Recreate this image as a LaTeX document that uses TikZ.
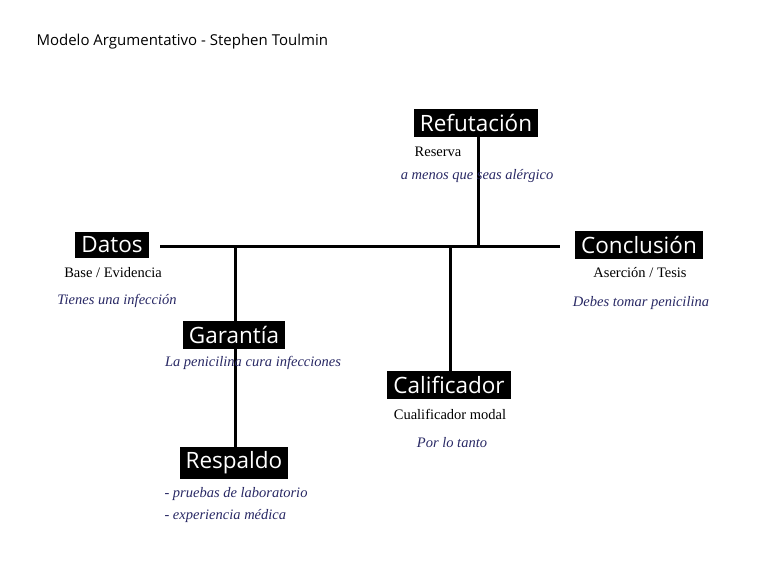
\documentclass[tikz,border=0pt]{standalone}
\usepackage{fontspec}
\setmainfont{Liberation Serif}
\newfontfamily\boxfont{Open Sans}
\pgfdeclarelayer{bg}\pgfsetlayers{bg,main}
\begin{document}
\begin{tikzpicture}[x=1pt,y=-1pt,
  box/.style={fill=black,text=white,font=\boxfont\fontsize{22.5}{24}\selectfont,inner xsep=6pt,inner ysep=5pt,anchor=center},
  sub/.style={font=\fontsize{14.5}{16}\selectfont,text=black},
  ex/.style={font=\itshape\fontsize{14.5}{16}\selectfont,text={rgb,255:red,40;green,40;blue,100}},
  ln/.style={line width=3pt}]
\useasboundingbox (0,0) rectangle (768,576);
\node[anchor=west,font=\boxfont\fontsize{15}{17}\selectfont] (title) at (33,42) {Modelo Argumentativo - Stephen Toulmin};
\node[box] (ref) at (476,123) {Refutación};
\node[box] (dat) at (112,245) {Datos};
\node[box] (con) at (639,245) {Conclusión};
\node[box] (gar) at (234,335) {Garantía};
\node[box] (cal) at (449,385) {Calificador};
\node[box] (res) at (234,463) {Respaldo};
\coordinate (hl) at (160,246); \coordinate (hr) at (560,246);
\coordinate (jg) at (235,246); \coordinate (jc) at (450,246); \coordinate (jr) at (478,246);
\begin{pgfonlayer}{bg}
\draw[ln] (hl) -- (hr);
\draw[ln] (jr) -- (jr |- ref.south);
\draw[ln] (jc) -- (jc |- cal.north);
\draw[ln] (jg) -- (jg |- res.north);
\end{pgfonlayer}
\node[sub] (s1) at (438,152) {Reserva};
\node[ex] (e1) at (477,176) {a menos que seas alérgico};
\node[sub] (s2) at (113,273) {Base / Evidencia};
\node[ex] (e2) at (117,301) {Tienes una infección};
\node[sub] (s3) at (640,273) {Aserción / Tesis};
\node[ex] (e3) at (641,303) {Debes tomar penicilina};
\node[ex] (e4) at (253,363) {La penicilina cura infecciones};
\node[sub] (s5) at (450,414) {Cualificador modal};
\node[ex] (e5) at (452,443) {Por lo tanto};
\node[ex,anchor=west] (e6) at (161,494) {- pruebas de laboratorio};
\node[ex,anchor=west] (e7) at (161,516) {- experiencia médica};
\end{tikzpicture}
\end{document}
